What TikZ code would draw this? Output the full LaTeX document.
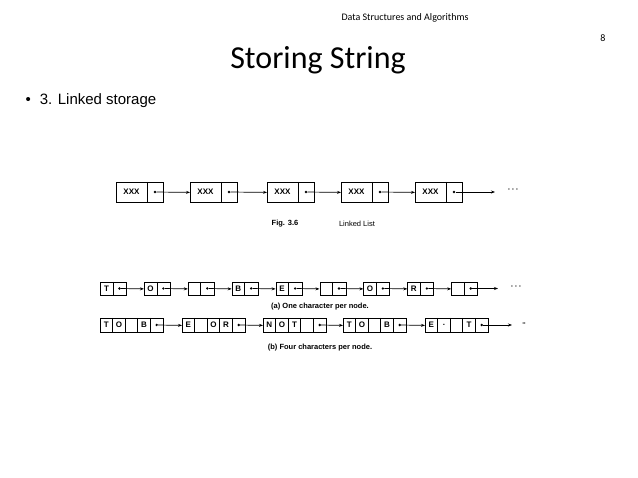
\documentclass[tikz,border=0pt]{standalone}
\usepackage{fontspec}
\setmainfont{Liberation Sans}
\newfontfamily\calfont{Carlito}
\usetikzlibrary{arrows.meta}
\begin{document}
\begin{tikzpicture}[x=1pt,y=-1pt,
  box/.style={draw,line width=0.8pt,anchor=north west,inner sep=0pt},
  lnk/.style={line width=0.7pt,-{Stealth[length=4pt,width=3pt]}},
  dotm/.style={circle,fill,inner sep=0pt,minimum size=2.6pt},
  lbl/.style={font=\fontsize{8}{9}\selectfont\bfseries},
  captxt/.style={font=\fontsize{7.5}{9}\selectfont\bfseries}]
\useasboundingbox (0,0) rectangle (638,478);
\node[font=\calfont\fontsize{10}{12}\selectfont] (hdr) at (405,18) {Data Structures and Algorithms};
\node[font=\calfont\fontsize{10}{12}\selectfont] (pg) at (603,38) {8};
\node[font=\calfont\fontsize{32}{36}\selectfont] (ttl) at (318,60) {Storing String};
\node[anchor=west,font=\fontsize{15}{18}\selectfont] (bul) at (22,101) {\textbullet\hspace{0.6em}3. Linked storage};
% Row 1
\foreach \i/\x in {1/116,2/190,3/267,4/341,5/415}{
  \node[box,minimum width=47,minimum height=20] (r\i) at (\x,182) {};
  \draw[line width=0.8pt] (\x+31,182) -- (\x+31,202);
  \node[lbl] (r\i-t) at (\x+15.5,192) {XXX};
  \node[dotm] (r\i-p) at (\x+39,192) {};
}
\foreach \i/\j in {1/2,2/3,3/4,4/5}{\draw[lnk] (r\i-p) -- (r\j.west);}
\coordinate (e1) at (495,192);
\draw[lnk] (r5-p) -- (e1);
\node[font=\fontsize{12}{12}\selectfont\bfseries] (d1) at (513,190) {$\cdot\!\cdot\!\cdot$};
\node[captxt] (f1) at (285,224) {Fig. 3.6};
\node[font=\fontsize{7.5}{9}\selectfont] (f2) at (357,224) {Linked List};
% Row a
\foreach \i/\c in {1/T,2/O,3/,4/B,5/E,6/,7/O,8/R,9/}{
  \pgfmathsetmacro\x{100+43.9*(\i-1)}
  \node[box,minimum width=26,minimum height=13] (a\i) at (\x,282) {};
  \draw[line width=0.8pt] (\x+13,282) -- (\x+13,295);
  \node[lbl] (a\i-t) at (\x+6.5,288.5) {\c};
  \node[dotm] (a\i-p) at (\x+19.5,288.5) {};
}
\foreach \i/\j in {1/2,2/3,3/4,4/5,5/6,6/7,7/8,8/9}{\draw[lnk] (a\i-p) -- (a\j.west);}
\coordinate (e2) at (498,288.5);
\draw[lnk] (a9-p) -- (e2);
\node[font=\fontsize{12}{12}\selectfont\bfseries] (d2) at (516,287) {$\cdot\!\cdot\!\cdot$};
\node[captxt] (ca) at (320,307) {(a) One character per node.};
% Row b
\foreach \i/\x/\a/\b/\c/\d in {1/100/T/O//B,2/182/E//O/R,3/263/N/O/T/,4/343/T/O//B,5/425/E/.//T}{
  \node[box,minimum width=63,minimum height=14] (b\i) at (\x,318) {};
  \foreach \k in {1,2,3,4}{\draw[line width=0.8pt] (\x+12.6*\k,318) -- (\x+12.6*\k,332);}
  \node[lbl] (b\i-a) at (\x+6.3,325) {\a};
  \node[lbl] (b\i-b) at (\x+18.9,325) {\b};
  \node[lbl] (b\i-c) at (\x+31.5,325) {\c};
  \node[lbl] (b\i-d) at (\x+44.1,325) {\d};
  \node[dotm] (b\i-p) at (\x+56.7,325) {};
}
\foreach \i/\j in {1/2,2/3,3/4,4/5}{\draw[lnk] (b\i-p) -- (b\j.west);}
\coordinate (e3) at (512,325);
\draw[lnk] (b5-p) -- (e3);
\node[font=\fontsize{12}{12}\selectfont\bfseries] (d3) at (524,323.5) {$\cdot\!\cdot$};
\node[captxt] (cb) at (320,348) {(b) Four characters per node.};
\end{tikzpicture}
\end{document}
